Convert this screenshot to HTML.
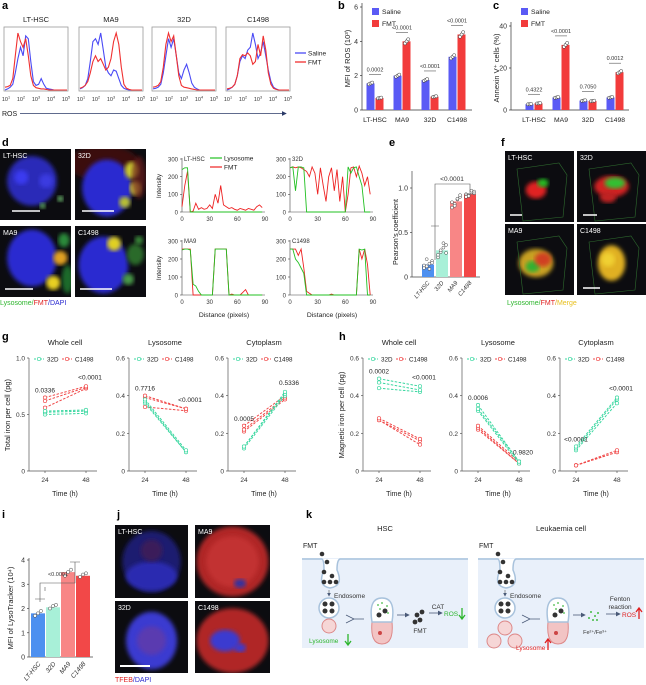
<!DOCTYPE html>
<html><head><meta charset="utf-8">
<style>
html,body{margin:0;padding:0;background:#fff;}
svg{display:block;font-family:"Liberation Sans",sans-serif;}
text{font-family:"Liberation Sans",sans-serif;}
</style></head>
<body>
<svg id="fig" width="646" height="685" viewBox="0 0 646 685" xmlns="http://www.w3.org/2000/svg">
<defs>
<filter id="blur2"><feGaussianBlur stdDeviation="2"/></filter>
<filter id="blur4"><feGaussianBlur stdDeviation="4"/></filter>
<marker id="arr" markerWidth="6" markerHeight="6" refX="5" refY="3" orient="auto"><path d="M0,0 L6,3 L0,6 z" fill="#2b3a67"/></marker>
<marker id="arrk" markerWidth="6" markerHeight="6" refX="5" refY="3" orient="auto"><path d="M0,0 L6,3 L0,6 z" fill="#4a5a78"/></marker>
</defs>
</svg>
<script>
// ---------- DATA ----------
const histCats = ['LT-HSC','MA9','32D','C1498'];
const histSalineLT = [0,0.02,0.05,0.1,0.3,0.55,0.75,0.6,0.95,0.9,0.5,0.15,0.08,0.1,0.2,0.1,0.03,0.02,0.01,0,0,0,0,0,0];
const histFmtLT    = [0.05,0.06,0.08,0.2,0.6,1.0,0.85,0.75,0.9,0.6,0.25,0.08,0.04,0.03,0.02,0.02,0.01,0,0,0,0,0,0,0,0];
const histSalineMA9= [0.02,0.04,0.08,0.2,0.5,0.85,0.9,0.8,1.0,0.7,0.4,0.3,0.25,0.35,0.33,0.2,0.08,0.03,0.01,0,0,0,0,0,0];
const histFmtMA9   = [0.03,0.05,0.08,0.15,0.3,0.5,0.6,0.5,0.55,0.45,0.35,0.4,0.55,0.85,1.0,0.8,0.4,0.1,0.03,0.01,0,0,0,0,0];
const histSaline32D= [0.02,0.03,0.05,0.1,0.3,0.6,0.9,0.75,0.9,0.6,0.3,0.2,0.35,0.45,0.3,0.12,0.05,0.02,0,0,0,0,0,0,0];
const histFmt32D   = [0.05,0.06,0.08,0.15,0.4,0.8,1.0,0.85,0.95,0.6,0.25,0.08,0.05,0.04,0.03,0.02,0.01,0,0,0,0,0,0,0,0];
const histSalineC  = [0,0.02,0.05,0.1,0.25,0.5,0.6,0.55,0.7,0.75,1.0,0.8,0.55,0.65,0.85,0.6,0.35,0.15,0.05,0.02,0,0,0,0,0];
const histFmtC     = [0.02,0.03,0.05,0.1,0.25,0.55,0.62,0.6,0.65,0.6,0.45,0.5,0.8,0.6,0.95,0.7,0.3,0.1,0.03,0.01,0,0,0,0,0];

const bCats = ['LT-HSC','MA9','32D','C1498'];
const bSaline = [1.55,2.0,1.75,3.1];
const bFmt = [0.7,4.0,0.78,4.4];
const bP = ['0.0002','<0.0001','<0.0001','<0.0001'];
const bTicks = [0,2,4,6];

const cSaline = [2.8,6.0,4.5,6.0];
const cFmt = [3.2,31,4.3,18];
const cP = ['0.4322','<0.0001','0.7050','0.0012'];
const cTicks = [0,20,40];

const dLysoLT  = [240,250,250,0,0,0,0,0,0,0,0,0,0,0,0,0,0,0,0,0,0,0,0,0,0,0,0,0,0,0];
const dFmtLT   = [30,150,230,0,5,50,15,25,15,20,40,20,100,50,150,40,30,20,25,15,10,20,15,10,20,15,10,30,40,25];
const dLyso32D = [250,255,120,255,255,250,0,0,0,0,0,0,0,0,0,0,0,0,0,0,0,255,220,250,255,200,150,0,0,0];
const dFmt32D  = [250,255,250,255,250,240,230,200,255,220,100,250,150,60,200,250,120,240,60,200,0,100,250,255,200,260,220,150,200,100];
const dLysoMA9 = [250,255,255,250,60,50,20,0,0,0,0,0,255,255,255,255,255,0,0,0,0,0,0,0,0,0,0,0,0,0];
const dFmtMA9  = [255,255,255,255,0,0,0,0,0,0,0,0,255,255,255,255,255,0,5,0,0,0,15,30,0,0,0,0,0,0];
const dLysoC   = [255,255,200,180,150,120,0,0,0,0,0,0,0,0,0,0,0,0,0,0,0,0,0,0,0,255,250,255,0,0];
const dFmtC    = [255,255,255,220,255,150,20,10,0,0,0,0,0,0,0,5,0,0,0,0,0,0,0,0,0,255,200,255,170,0];
const dTicksX = [0,30,60,90];
const dTicksY = [0,100,200,300];

const eCats = ['LT-HSC','32D','MA9','C1498'];
const eVals = [0.14,0.30,0.85,0.93];
const ePts = [[0.1,0.12,0.15,0.18,0.13,0.2,0.09,0.16],[0.22,0.28,0.33,0.36,0.25,0.3,0.38,0.27],[0.78,0.82,0.87,0.9,0.84,0.8,0.88,0.92],[0.9,0.92,0.95,0.96,0.93,0.91,0.97,0.94]];
const eTicks = [0,0.5,1.0];

const gWhole32D  = [[0.50,0.51],[0.52,0.53],[0.53,0.54]];
const gWholeC    = [[0.56,0.73],[0.62,0.74],[0.65,0.75]];
const gLyso32D   = [[0.36,0.10],[0.37,0.10],[0.38,0.11]];
const gLysoC     = [[0.34,0.32],[0.39,0.33],[0.40,0.33]];
const gCyto32D   = [[0.12,0.40],[0.13,0.41],[0.13,0.42]];
const gCytoC     = [[0.21,0.38],[0.22,0.39],[0.24,0.40]];
const hWhole32D  = [[0.44,0.42],[0.47,0.43],[0.49,0.45]];
const hWholeC    = [[0.27,0.14],[0.27,0.16],[0.28,0.17]];
const hLyso32D   = [[0.32,0.04],[0.33,0.05],[0.35,0.05]];
const hLysoC     = [[0.22,0.04],[0.23,0.04],[0.24,0.05]];
const hCyto32D   = [[0.11,0.36],[0.12,0.38],[0.13,0.39]];
const hCytoC     = [[0.03,0.10],[0.03,0.10],[0.03,0.11]];
const timeTicks = [24,48];

const iCats = ['LT-HSC','32D','MA9','C1498'];
const iVals = [1.8,2.05,3.5,3.35];
const iPts = [[1.7,1.8,1.9],[2.0,2.1,2.15],[3.35,3.5,3.6],[3.3,3.4,3.45]];
const iTicks = [0,1,2,3,4];

// ---------- HELPERS ----------
const NS='http://www.w3.org/2000/svg';
const svg=document.getElementById('fig');
function mk(tag,attrs,parent){const e=document.createElementNS(NS,tag);for(const k in attrs)e.setAttribute(k,attrs[k]);(parent||svg).appendChild(e);return e;}
function tx(x,y,s,size,fill,anchor,parent,extra){const t=mk('text',Object.assign({x:x,y:y,'font-size':size,fill:fill||'#222','text-anchor':anchor||'start'},extra||{}),parent);t.textContent=s;return t;}
function lin(d0,d1,r0,r1){return v=>r0+(v-d0)/(d1-d0)*(r1-r0);}
function grp(name){const g=mk('g',{});return g;}

// panel letters
[['a',2,9],['b',338,9],['c',493,9],['d',2,146],['e',389,146],['f',501,146],['g',2,340],['h',339,340],['i',2,518],['j',117,518],['k',306,518]].forEach(p=>{
  const t=tx(p[1],p[2],p[0],11,'#000','start',svg,{'font-weight':'bold'});
  
  
});

// ---------- PANEL A ----------
(function(){
  const g=grp('panel-a-histograms');
  const boxX=[4,79,152,226], w=64, top=27, bot=91;
  const sal=[histSalineLT,histSalineMA9,histSaline32D,histSalineC];
  const fmt=[histFmtLT,histFmtMA9,histFmt32D,histFmtC];
  histCats.forEach((c,i)=>{
    const bx=boxX[i];
    const r=mk('rect',{x:bx,y:top,width:w,height:bot-top,fill:'none',stroke:'#999','stroke-width':0.8},g);
    
    tx(bx+w/2,22,c,7.5,'#222','middle',g);
    const xs=lin(0,24,bx+1,bx+w-1), ys=lin(0,1,bot-1,top+6);
    [[sal[i],'#4a4af5'],[fmt[i],'#f03030']].forEach((s,k)=>{
      const d=s[0].map((v,j)=>(j?'L':'M')+xs(j).toFixed(1)+','+ys(v).toFixed(1)).join(' ');
      const p=mk('path',{d:d,fill:'none',stroke:s[1],'stroke-width':1.1},g);
      
    });
    for(let e=1;e<=5;e++){
      const t=tx(bx+2+(e-1)*(w-4)/4,101,'10',5.5,'#333','middle',g);
      const sp=document.createElementNS(NS,'tspan');sp.setAttribute('font-size',3.8);sp.setAttribute('dy',-2.5);sp.textContent=e;t.appendChild(sp);
    }
  });
  tx(2,116,'ROS',7,'#222','start',g);
  const ar=mk('line',{x1:20,y1:113.5,x2:286,y2:113.5,stroke:'#2b3a67','stroke-width':0.8,'marker-end':'url(#arr)'},g);
  
  mk('line',{x1:295,y1:53,x2:306,y2:53,stroke:'#4a4af5','stroke-width':1.3},g);
  tx(308,55.5,'Saline',6.5,'#222','start',g);
  mk('line',{x1:295,y1:62,x2:306,y2:62,stroke:'#f03030','stroke-width':1.3},g);
  tx(308,64.5,'FMT',6.5,'#222','start',g);
})();

// ---------- GROUPED BARS (b, c) ----------
function groupedBars(name,ax,ax1,y0,yTopVal,yTopPx,ticks,cats,sal,fmt,pl,centers,ylabel,ylabelX){
  const g=grp(name);
  const ys=lin(0,yTopVal,y0,yTopPx);
  mk('line',{x1:ax,y1:y0,x2:ax,y2:ys(ticks[ticks.length-1])-4,stroke:'#333','stroke-width':0.7},g);
  mk('line',{x1:ax,y1:y0,x2:ax1,y2:y0,stroke:'#333','stroke-width':0.7},g);
  ticks.forEach(t=>{mk('line',{x1:ax-2,y1:ys(t),x2:ax,y2:ys(t),stroke:'#333','stroke-width':0.7},g);tx(ax-4,ys(t)+2.5,String(t),7,'#333','end',g);});
  cats.forEach((c,i)=>{
    const cx=centers[i];
    [[sal[i],'#5a5af5',cx-8.5,'saline'],[fmt[i],'#f23b3b',cx+0.5,'fmt']].forEach(b=>{
      const r=mk('rect',{x:b[2],y:ys(b[0]),width:8,height:y0-ys(b[0]),fill:b[1]},g);
      
      
      for(let k=0;k<3;k++){mk('circle',{cx:b[2]+2.5+k*1.6,cy:ys(b[0]*(0.97+0.03*k)),r:1.6,fill:'#fff',stroke:'#333','stroke-width':0.5},g);}
    });
    const top=Math.max(ys(sal[i]),ys(fmt[i]))
    const yy=Math.min(ys(sal[i]),ys(fmt[i]))-9;
    mk('line',{x1:cx-6,y1:yy,x2:cx+6,y2:yy,stroke:'#555','stroke-width':0.6},g);
    tx(cx,yy-3,pl[i],5.5,'#333','middle',g);
    tx(cx,y0+12,c,6.8,'#222','middle',g);
  });
  const yl=tx(ylabelX,(y0+yTopPx)/2,ylabel,7.5,'#222','middle',g,{transform:'rotate(-90 '+ylabelX+' '+((y0+yTopPx)/2)+')'});
  
  // legend
  const lx=ax+10;
  mk('rect',{x:lx,y:8,width:7,height:7,fill:'#5a5af5'},g);tx(lx+10,14,'Saline',6.8,'#222','start',g);
  mk('rect',{x:lx,y:20,width:7,height:7,fill:'#f23b3b'},g);tx(lx+10,26,'FMT',6.8,'#222','start',g);
  return g;
}
groupedBars('panel-b-ros-bars',362,472,110,6,7,bTicks,bCats,bSaline,bFmt,bP,[375,402,430,457],'MFI of ROS (10³)',350);
groupedBars('panel-c-annexin-bars',511,629,110,40,26,cTicks,bCats,cSaline,cFmt,cP,[534,561,588,615],'Annexin V⁺ cells (%)',499);

// ---------- PANEL D IMAGES ----------
function micro(name,x,y,w,h,label,blobs,parent){
  const g=mk('g',{},parent);
  mk('rect',{x:x,y:y,width:w,height:h,fill:'#0c0c10'},g);
  const cp='cp'+name;const c=mk('clipPath',{id:cp},g);mk('rect',{x:x,y:y,width:w,height:h},c);
  const inner=mk('g',{'clip-path':'url(#'+cp+')'},g);
  blobs.forEach(b=>mk('ellipse',{cx:x+b[0]*w,cy:y+b[1]*h,rx:b[2]*w,ry:(b[3]||b[2])*h,fill:b[4],opacity:b[5]||1,filter:'url(#blur2)'},inner));
  tx(x+3,y+9,label,7,'#fff','start',g);
  return g;
}
(function(){
  const g=grp('panel-d-images');
  micro('d-img-lt-hsc',0,149,71,71,'LT-HSC',[[0.45,0.45,0.35,0.35,'#2a2ab8'],[0.3,0.4,0.1,0.1,'#3a3af0'],[0.65,0.45,0.1,0.1,'#3a3ae0'],[0.85,0.7,0.04,0.04,'#7c7'],[0.6,0.8,0.04,0.04,'#6b6']],g);
  micro('d-img-32d',75,149,71,71,'32D',[[0.4,0.2,0.5,0.25,'#3a1010'],[0.45,0.55,0.35,0.4,'#2a2ad0'],[0.8,0.3,0.1,0.12,'#c9c930'],[0.85,0.55,0.08,0.1,'#d8d040'],[0.7,0.75,0.08,0.08,'#b8c030'],[0.9,0.4,0.1,0.3,'#6a1a1a',0.7]],g);
  micro('d-img-ma9',0,226,71,71,'MA9',[[0.45,0.45,0.35,0.4,'#2a2ad0'],[0.85,0.45,0.1,0.1,'#e0a020'],[0.75,0.8,0.1,0.1,'#e8d020'],[0.9,0.2,0.08,0.1,'#2a8a3a'],[0.95,0.75,0.08,0.2,'#1a6a2a']],g);
  micro('d-img-c1498',75,226,71,71,'C1498',[[0.4,0.55,0.35,0.4,'#2a2ad0'],[0.55,0.25,0.1,0.1,'#e0d020'],[0.75,0.75,0.08,0.08,'#4a9a4a'],[0.85,0.4,0.12,0.15,'#2a6a2a'],[0.9,0.2,0.06,0.06,'#3a8a3a']],g);
  [[12,211,28],[82,211,32],[5,289,28],[80,289,32]].forEach(s=>mk('line',{x1:s[0],y1:s[1],x2:s[0]+s[2],y2:s[1],stroke:'#fff','stroke-width':1.5},g));
  const cap=tx(0,305,'',7,'#222','start',g);
  [['Lysosome','#2db52d'],['/','#2db52d'],['FMT','#e02020'],['/','#2a2ad0'],['DAPI','#2a2ad0']].forEach(p=>{const s=document.createElementNS(NS,'tspan');s.setAttribute('fill',p[1]);s.textContent=p[0];cap.appendChild(s);});
})();

// ---------- PANEL D LINE PLOTS ----------
function profile(name,ax,y0,yTop,lyso,fmt,label,labels){
  const g=grp(name);
  const xs=lin(0,90,ax,ax+83), ys=lin(0,300,y0,yTop);
  mk('line',{x1:ax,y1:y0,x2:ax,y2:yTop-1,stroke:'#444','stroke-width':0.6},g);
  mk('line',{x1:ax,y1:y0,x2:ax+83,y2:y0,stroke:'#444','stroke-width':0.6},g);
  dTicksY.forEach(t=>{mk('line',{x1:ax-2,y1:ys(t),x2:ax,y2:ys(t),stroke:'#444','stroke-width':0.6},g);tx(ax-4,ys(t)+2.3,String(t),6,'#333','end',g);});
  if(labels) dTicksX.forEach(t=>{tx(xs(t),y0+9,String(t),6,'#333','middle',g);});
  [[fmt,'#ee2222','fmt'],[lyso,'#22c022','lysosome']].forEach(s=>{
    const d=s[0].map((v,j)=>(j?'L':'M')+xs(j*3).toFixed(1)+','+ys(v).toFixed(1)).join(' ');
    const p=mk('path',{d:d,fill:'none',stroke:s[1],'stroke-width':0.9},g);
    
  });
  tx(ax+2,yTop+2,label,6,'#333','start',g);
}
profile('panel-d-profile-lt-hsc',182,212,159,dLysoLT,dFmtLT,'LT-HSC',true);
profile('panel-d-profile-32d',290,212,159,dLyso32D,dFmt32D,'32D',true);
profile('panel-d-profile-ma9',182,295,241,dLysoMA9,dFmtMA9,'MA9',true);
profile('panel-d-profile-c1498',290,295,241,dLysoC,dFmtC,'C1498',true);
(function(){
  const g=grp('panel-d-legend-axes');
  mk('line',{x1:210,y1:158,x2:222,y2:158,stroke:'#22c022','stroke-width':1.2},g);tx(224,160.5,'Lysosome',6.5,'#222','start',g);
  mk('line',{x1:210,y1:167,x2:222,y2:167,stroke:'#ee2222','stroke-width':1.2},g);tx(224,169.5,'FMT',6.5,'#222','start',g);
  tx(161,186,'Intensity',6.5,'#222','middle',g,{transform:'rotate(-90 161 186)'});
  tx(161,268,'Intensity',6.5,'#222','middle',g,{transform:'rotate(-90 161 268)'});
  tx(224,317,'Distance (pixels)',6.8,'#222','middle',g);
  tx(332,317,'Distance (pixels)',6.8,'#222','middle',g);
})();

// ---------- PANEL E ----------
(function(){
  const g=grp('panel-e-pearson');
  const ax=412,y0=277,ys=lin(0,1,y0,188);
  mk('line',{x1:ax,y1:y0,x2:ax,y2:171,stroke:'#444','stroke-width':0.7},g);
  mk('line',{x1:ax,y1:y0,x2:480,y2:y0,stroke:'#444','stroke-width':0.7},g);
  eTicks.forEach(t=>{mk('line',{x1:ax-2,y1:ys(t),x2:ax,y2:ys(t),stroke:'#444','stroke-width':0.7},g);tx(ax-4,ys(t)+2.5,t===0?'0':t.toFixed(1),7,'#333','end',g);});
  const cols=['#4d90f0','#a8f0d8','#f88686','#f24848'];
  eCats.forEach((c,i)=>{
    const cx=428+i*14;
    const r=mk('rect',{x:cx-6,y:ys(eVals[i]),width:12,height:y0-ys(eVals[i]),fill:cols[i]},g);
    
    
    ePts[i].forEach((v,k)=>mk('circle',{cx:cx-4+(k%4)*2.7,cy:ys(v),r:1.5,fill:'#fff',stroke:'#444','stroke-width':0.5},g));
    tx(cx+2,y0+6,c,6,'#333','end',g,{transform:'rotate(-50 '+(cx+2)+' '+(y0+6)+')','font-style':'italic'});
  });
  mk('path',{d:'M435,260 L435,226 M431,226 L439,226 M435,226 L435,184 L470,184 L470,192 M465,194 L475,194',fill:'none',stroke:'#555','stroke-width':0.6},g);
  tx(452,181,'<0.0001',6.5,'#333','middle',g);
  tx(398,232,"Pearson's coefficient",7.2,'#222','middle',g,{transform:'rotate(-90 398 232)'});
})();

// ---------- PANEL F ----------
(function(){
  const g=grp('panel-f-3d-images');
  const specs=[['f-img-lt-hsc',505,151,'LT-HSC',[[0.45,0.55,0.15,0.12,'#e02020'],[0.55,0.45,0.08,0.06,'#20c020']]],
    ['f-img-32d',577,151,'32D',[[0.5,0.5,0.25,0.15,'#d02020'],[0.55,0.45,0.15,0.08,'#30c030'],[0.45,0.65,0.12,0.08,'#c02020']]],
    ['f-img-ma9',505,224,'MA9',[[0.45,0.55,0.25,0.2,'#c8a020'],[0.4,0.6,0.1,0.08,'#30b030'],[0.55,0.5,0.12,0.1,'#d04020']]],
    ['f-img-c1498',577,224,'C1498',[[0.5,0.55,0.2,0.25,'#e0b020'],[0.45,0.5,0.1,0.1,'#f0d030']]]];
  specs.forEach(s=>{
    const m=micro(s[0],s[1],s[2],69,71,s[3],s[4],g);
    mk('path',{d:'M'+(s[1]+12)+','+(s[2]+18)+' l42,-6 l8,12 l-4,42 l-40,4 z',fill:'none',stroke:'#2e6a2e','stroke-width':0.6},m);
  });
  mk('line',{x1:510,y1:215,x2:522,y2:215,stroke:'#fff','stroke-width':1.5},g);
  mk('line',{x1:583,y1:215,x2:597,y2:215,stroke:'#fff','stroke-width':1.5},g);
  mk('line',{x1:583,y1:288,x2:600,y2:288,stroke:'#fff','stroke-width':1.5},g);
  const cap=tx(507,305,'',7,'#222','start',g);
  [['Lysosome','#2db52d'],['/','#2db52d'],['FMT','#e02020'],['/','#e0a020'],['Merge','#e8c020']].forEach(p=>{const s=document.createElementNS(NS,'tspan');s.setAttribute('fill',p[1]);s.textContent=p[0];cap.appendChild(s);});
})();

// ---------- PANELS G / H ----------
function ironPanel(name,ax,yMax,yTicks,d32,dC,title,p24,p48){
  const g=grp(name);
  const y0=471,yTop=358;
  const ys=lin(0,yMax,y0,yTop), xs=lin(24,48,ax+16,ax+57);
  mk('line',{x1:ax,y1:y0,x2:ax,y2:yTop,stroke:'#555','stroke-width':0.7},g);
  mk('line',{x1:ax,y1:y0,x2:ax+68,y2:y0,stroke:'#555','stroke-width':0.7},g);
  yTicks.forEach(t=>{mk('line',{x1:ax-2,y1:ys(t),x2:ax,y2:ys(t),stroke:'#555','stroke-width':0.7},g);tx(ax-4,ys(t)+2.5,t===0?'0':t.toFixed(1),6.5,'#333','end',g);});
  timeTicks.forEach(t=>{mk('line',{x1:xs(t),y1:y0,x2:xs(t),y2:y0+2,stroke:'#555','stroke-width':0.7},g);tx(xs(t),y0+11,String(t),6.5,'#333','middle',g);});
  tx(ax+36,y0+25,'Time (h)',7,'#222','middle',g);
  tx(ax+36,345,title,7.5,'#222','middle',g);
  [[dC,'#f04848','C1498'],[d32,'#3ad7a0','32D']].forEach(s=>{
    s[0].forEach((pr,k)=>{
      const l=mk('line',{x1:xs(24),y1:ys(pr[0]),x2:xs(48),y2:ys(pr[1]),stroke:s[1],'stroke-width':1,'stroke-dasharray':'2.5,1.5'},g);
      
      [0,1].forEach(j=>{mk('circle',{cx:xs(j?48:24),cy:ys(pr[j]),r:1.7,fill:'#fff',stroke:s[1],'stroke-width':0.7},g);});
    });
  });
  const m24=Math.max(...d32.map(p=>p[0]),...dC.map(p=>p[0])), m48=Math.max(...d32.map(p=>p[1]),...dC.map(p=>p[1]));
  if(p24) tx(xs(24),ys(m24)-5,p24,6.5,'#222','middle',g);
  if(p48) tx(xs(48)+4,ys(m48)-7,p48,6.5,'#222','middle',g);
  // legend
  mk('line',{x1:ax+5,y1:359,x2:ax+15,y2:359,stroke:'#3ad7a0','stroke-width':1,'stroke-dasharray':'2,1'},g);
  mk('circle',{cx:ax+10,cy:359,r:1.7,fill:'#fff',stroke:'#3ad7a0','stroke-width':0.7},g);
  tx(ax+18,361.5,'32D',6.3,'#222','start',g);
  mk('line',{x1:ax+33,y1:359,x2:ax+43,y2:359,stroke:'#f04848','stroke-width':1,'stroke-dasharray':'2,1'},g);
  mk('circle',{cx:ax+38,cy:359,r:1.7,fill:'#fff',stroke:'#f04848','stroke-width':0.7},g);
  tx(ax+46,361.5,'C1498',6.3,'#222','start',g);
}
ironPanel('panel-g-whole-cell',29,1.0,[0,0.5,1.0],gWhole32D,gWholeC,'Whole cell','0.0336','<0.0001');
ironPanel('panel-g-lysosome',129,0.6,[0,0.2,0.4,0.6],gLyso32D,gLysoC,'Lysosome','0.7716','<0.0001');
ironPanel('panel-g-cytoplasm',228,0.6,[0,0.2,0.4,0.6],gCyto32D,gCytoC,'Cytoplasm','0.0005','0.5336');
ironPanel('panel-h-whole-cell',363,0.6,[0,0.2,0.4,0.6],hWhole32D,hWholeC,'Whole cell','0.0002','<0.0001');
ironPanel('panel-h-lysosome',462,0.6,[0,0.2,0.4,0.6],hLyso32D,hLysoC,'Lysosome','0.0006','0.9820');
ironPanel('panel-h-cytoplasm',560,0.6,[0,0.2,0.4,0.6],hCyto32D,hCytoC,'Cytoplasm','<0.0001','<0.0001');
tx(10,415,'Total iron per cell (pg)',7.5,'#222','middle',svg,{transform:'rotate(-90 10 415)'});
tx(344,415,'Magnetic iron per cell (pg)',7.5,'#222','middle',svg,{transform:'rotate(-90 344 415)'});

// ---------- PANEL I ----------
(function(){
  const g=grp('panel-i-lysotracker');
  const ax=29,y0=657,ys=lin(0,4,y0,560);
  mk('line',{x1:ax,y1:y0,x2:ax,y2:558,stroke:'#444','stroke-width':0.7},g);
  mk('line',{x1:ax,y1:y0,x2:93,y2:y0,stroke:'#444','stroke-width':0.7},g);
  iTicks.forEach(t=>{mk('line',{x1:ax-2,y1:ys(t),x2:ax,y2:ys(t),stroke:'#444','stroke-width':0.7},g);tx(ax-4,ys(t)+2.5,String(t),7,'#333','end',g);});
  const cols=['#4d90f0','#a8f0d8','#f88686','#f24848'];
  iCats.forEach((c,i)=>{
    const cx=38+i*15;
    const r=mk('rect',{x:cx-7,y:ys(iVals[i]),width:14,height:y0-ys(iVals[i]),fill:cols[i]},g);
    
    
    iPts[i].forEach((v,k)=>mk('circle',{cx:cx-3+k*3,cy:ys(v),r:1.6,fill:'#fff',stroke:'#444','stroke-width':0.5},g));
    tx(cx+3,y0+7,c,6.5,'#333','end',g,{transform:'rotate(-50 '+(cx+3)+' '+(y0+7)+')','font-style':'italic'});
  });
  mk('path',{d:'M40,602 L40,589 M35,599 L45,599 M45,587 L45,591 M40,591 L40,583 L75,583 L75,562 M70,562 L80,562',fill:'none',stroke:'#555','stroke-width':0.6},g);
  tx(58,576,'<0.0001',5.5,'#333','middle',g);
  tx(13,608,'MFI of LysoTracker (10⁴)',7.5,'#222','middle',g,{transform:'rotate(-90 13 608)'});
})();

// ---------- PANEL J ----------
(function(){
  const g=grp('panel-j-tfeb-images');
  micro('j-img-lt-hsc',115,525,73,73,'LT-HSC',[[0.5,0.5,0.4,0.42,'#1a1a70'],[0.5,0.7,0.35,0.2,'#2a2ab0'],[0.5,0.35,0.15,0.15,'#3a1a5a']],g);
  micro('j-img-ma9',195,525,75,73,'MA9',[[0.5,0.5,0.48,0.48,'#b02828'],[0.5,0.5,0.35,0.35,'#c23232'],[0.6,0.8,0.08,0.06,'#3030a0']],g);
  micro('j-img-32d',115,601,73,72,'32D',[[0.5,0.55,0.35,0.4,'#3a3ad0'],[0.5,0.55,0.2,0.2,'#5a3ab0']],g);
  micro('j-img-c1498',195,601,75,72,'C1498',[[0.5,0.55,0.48,0.45,'#b02828'],[0.4,0.55,0.2,0.15,'#3a3ad0'],[0.6,0.65,0.08,0.06,'#3a3ad0']],g);
  mk('line',{x1:120,y1:666,x2:150,y2:666,stroke:'#fff','stroke-width':2},g);
  const cap=tx(115,682,'',7,'#222','start',g);
  [['TFEB','#e02020'],['/','#2a2ad0'],['DAPI','#2a2ad0']].forEach(p=>{const s=document.createElementNS(NS,'tspan');s.setAttribute('fill',p[1]);s.textContent=p[0];cap.appendChild(s);});
})();

// ---------- PANEL K ----------
function cellBox(name,x,title,leuk){
  const g=grp(name);
  tx(x+83,531,title,7.5,'#222','middle',g);
  mk('rect',{x:x,y:558,width:166,height:90,fill:'#e9f0fa'},g);
  mk('path',{d:'M'+x+',559 L'+(x+20)+',559 Q'+(x+22)+',560 '+(x+22)+',570 Q'+(x+15)+',586 '+(x+28)+',588 Q'+(x+42)+',586 '+(x+35)+',570 Q'+(x+35)+',560 '+(x+38)+',559 L'+(x+166)+',559',fill:'#fff',stroke:'#a8c2dc','stroke-width':1.5},g);
  tx(x+1,548,'FMT',7,'#222','start',g);
  [[20,554],[25,562],[22,572],[30,576],[22,582],[28,582],[34,582]].forEach(p=>mk('circle',{cx:x+p[0],cy:p[1]-0,r:2.3,fill:'#333'},g));
  mk('line',{x1:x+27,y1:590,x2:x+27,y2:596,stroke:'#555','stroke-width':0.6,'marker-end':'url(#arrk)'},g);
  tx(x+32,598,'Endosome',6.5,'#333','start',g);
  mk('circle',{cx:x+27,cy:608,r:10,fill:'#fff',stroke:'#a8c2dc','stroke-width':1.5},g);
  [[23,604],[30,604],[23,611],[30,611]].forEach(p=>mk('circle',{cx:x+p[0],cy:p[1],r:2.5,fill:'#333'},g));
  if(!leuk){
    mk('circle',{cx:x+27,cy:626,r:7,fill:'#f6d6d6',stroke:'#d88','stroke-width':1},g);
    const t=tx(x+7,643,'Lysosome ',6.5,'#2db52d','start',g);
    mk('path',{d:'M'+(x+46)+',634 L'+(x+46)+',644 M'+(x+43)+',641 L'+(x+46)+',645 L'+(x+49)+',641',stroke:'#2db52d','stroke-width':1.3,fill:'none'},g);
  } else {
    [[27,628],[16,641],[37,641]].forEach(p=>mk('circle',{cx:x+p[0],cy:p[1],r:7,fill:'#f6d6d6',stroke:'#d88','stroke-width':1},g));
    tx(x+38,650,'Lysosome',6.5,'#e02020','start',g);
    mk('path',{d:'M'+(x+70)+',650 L'+(x+70)+',640 M'+(x+67)+',643 L'+(x+70)+',639 L'+(x+73)+',643',stroke:'#e02020','stroke-width':1.3,fill:'none'},g);
  }
  mk('path',{d:'M'+(x+44)+',615 L'+(x+52)+',619 L'+(x+44)+',623 M'+(x+52)+',619 L'+(x+62)+',619',stroke:'#4a5a78','stroke-width':0.8,fill:'none'},g);
  const fx=x+80;
  mk('path',{d:'M'+(fx-10)+',622 Q'+(fx-12)+',644 '+fx+',644 Q'+(fx+12)+',644 '+(fx+10)+',622 Z',fill:'#f2c4c4',stroke:'#d88','stroke-width':1},g);
  mk('path',{d:'M'+(fx-10)+',622 Q'+(fx-14)+',598 '+fx+',598 Q'+(fx+14)+',598 '+(fx+10)+',622 Z',fill:'#fff',stroke:'#a8c2dc','stroke-width':1.5},g);
  mk('circle',{cx:fx+3,cy:611,r:2.5,fill:'#333'},g);mk('circle',{cx:fx-3,cy:615,r:2.5,fill:'#333'},g);
  [[-4,605],[0,603],[5,606],[-2,609],[6,613]].forEach(p=>mk('circle',{cx:fx+p[0],cy:p[1],r:0.9,fill:'#4b4'},g));
  mk('circle',{cx:fx-2,cy:633,r:2,fill:'#c44'},g);
  mk('line',{x1:fx+15,y1:615,x2:fx+27,y2:615,stroke:'#4a5a78','stroke-width':0.8,'marker-end':'url(#arrk)'},g);
  if(!leuk){
    [[35,615],[40,612],[38,620],[33,622]].forEach(p=>mk('circle',{cx:fx+p[0],cy:p[1],r:2.4,fill:'#333'},g));
    tx(fx+38,633,'FMT',6.5,'#333','middle',g);
    tx(fx+56,609,'CAT',6.5,'#333','middle',g);
    mk('line',{x1:fx+47,y1:613,x2:fx+60,y2:613,stroke:'#4a5a78','stroke-width':0.8,'marker-end':'url(#arrk)'},g);
    tx(fx+62,616,'ROS',6.5,'#2db52d','start',g);
    mk('path',{d:'M'+(fx+80)+',608 L'+(fx+80)+',618 M'+(fx+77)+',615 L'+(fx+80)+',619 L'+(fx+83)+',615',stroke:'#2db52d','stroke-width':1.3,fill:'none'},g);
  } else {
    [[33,612],[37,616],[35,620],[40,613],[31,618],[39,620]].forEach(p=>mk('circle',{cx:fx+p[0],cy:p[1],r:1,fill:'#4b4'},g));
    tx(fx+37,634,'Fe²⁺/Fe³⁺',5.5,'#333','middle',g);
    tx(fx+62,601,'Fenton',6.5,'#333','middle',g);
    tx(fx+62,609,'reaction',6.5,'#333','middle',g);
    mk('line',{x1:fx+48,y1:614,x2:fx+62,y2:614,stroke:'#4a5a78','stroke-width':0.8,'marker-end':'url(#arrk)'},g);
    tx(fx+64,617,'ROS',6.5,'#e02020','start',g);
    mk('path',{d:'M'+(fx+81)+',619 L'+(fx+81)+',609 M'+(fx+78)+',612 L'+(fx+81)+',608 L'+(fx+84)+',612',stroke:'#e02020','stroke-width':1.3,fill:'none'},g);
  }
}
cellBox('panel-k-hsc',302,'HSC',false);
cellBox('panel-k-leukaemia',478,'Leukaemia cell',true);
</script>
</body></html>
